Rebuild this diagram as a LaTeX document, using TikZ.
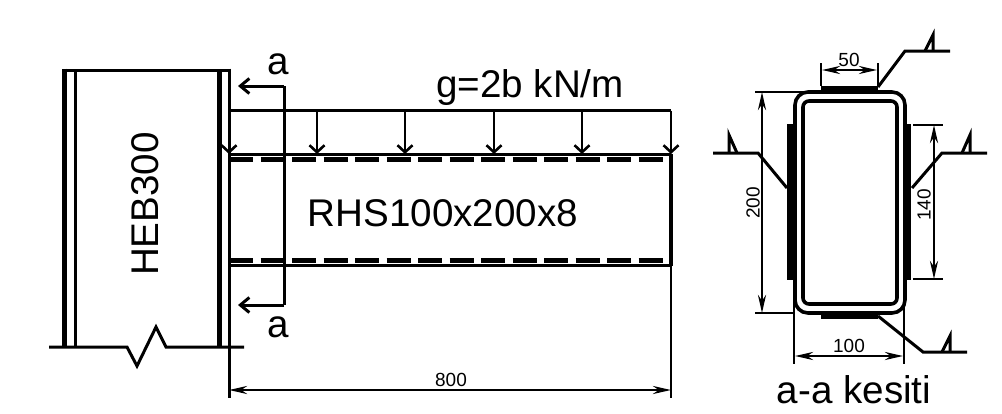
\documentclass[tikz,border=0pt]{standalone}
\usepackage{fontspec}
\setmainfont{Liberation Sans}
\usetikzlibrary{arrows.meta}
\tikzset{
  bigtext/.style={inner sep=0pt, font=\fontsize{38.6}{40}\selectfont},
  dimtext/.style={inner sep=0pt, font=\fontsize{19}{20}\selectfont},
  thick line/.style={line width=5pt},
  mid line/.style={line width=3pt},
  thin line/.style={line width=2.6pt},
  beam line/.style={line width=2.4pt},
  weld line/.style={line width=4.6pt, dash pattern=on 24pt off 7.5pt},
  dim line/.style={line width=2.6pt, {Stealth[length=18pt,width=8pt]}-{Stealth[length=18pt,width=8pt]}},
  load arrow/.style={line width=2.6pt, -{Straight Barb[length=7pt,width=15pt]}},
  cut arrow/.style={line width=3pt, -{Straight Barb[length=9pt,width=15pt]}},
  leader/.style={line width=3pt, line join=miter},
  plate/.style={line width=6pt}
}
\begin{document}
\begin{tikzpicture}[x=1pt, y=-1pt]
        \useasboundingbox (0,0) rectangle (1002,413);

        % column
        \coordinate (topleft) at (64,70);
        \coordinate (topright) at (229,70);
        \draw[mid line] (topleft) -- (topright);
        \draw[thick line] (64,68.5) -- (64,347);
        \draw[mid line] (75,70) -- (75,347);
        \draw[thick line] (219,70) -- (219,347);
        \draw[mid line] (229,68.5) -- (229,398);
        \draw[mid line] (49,347) -- (127,347) -- (137,366) -- (156,327) -- (166,347) -- (244,347);
        \node[bigtext, rotate=90] (heb) at (145,204) {HEB300};

        % beam
        \draw[beam line] (229,154.5) -- (671,154.5);
        \draw[weld line] (229,159.3) -- (671,159.3);
        \draw[weld line] (229,260.7) -- (671,260.7);
        \draw[beam line] (229,265.5) -- (671,265.5);
        \draw[line width=4.4pt] (671,154) -- (671,266);
        \draw[thin line] (671,265) -- (671,398);
        \node[bigtext] (rhs) at (443,213) {RHS100x200x8};

        % load
        \draw[thin line] (229,110.5) -- (671,110.5);
        \foreach \x in {229,317,405,494,582,671}
          \draw[load arrow] (\x,110.5) -- (\x,154);
        \node[bigtext] (load) at (530,88) {g=2b kN/m};

        % section mark
        \coordinate (cuttop) at (284,86);
        \coordinate (cutbot) at (284,305);
        \draw[mid line] (cuttop) -- (cutbot);
        \draw[cut arrow] (cuttop) -- (238,86);
        \draw[cut arrow] (cutbot) -- (238,305);
        \node[bigtext] (atop) at (278,64) {a};
        \node[bigtext] (abot) at (278,327) {a};

        % length
        \draw[dim line] (229,390) -- (671,390);
        \node[dimtext] (len) at (451,380) {800};

        % section
        \draw[line width=3.6pt, rounded corners=13pt] (795,92) rectangle (905,313);
        \draw[line width=3.6pt, rounded corners=6pt] (803,101) rectangle (897,304);
        \draw[plate] (821,88.5) -- (878,88.5);
        \draw[plate] (821,316) -- (878,316);
        \draw[plate] (790,124) -- (790,280);
        \draw[plate] (908,124) -- (908,280);

        % welds
        \draw[leader] (878,87) -- (905,51) -- (950,51);
        \draw[leader] (925,51) -- (933,35) -- (933,51);
        \draw[leader] (787,188) -- (758,153) -- (713,153);
        \draw[leader] (737,153) -- (729,135) -- (729,153);
        \draw[leader] (912,188) -- (942,153) -- (987,153);
        \draw[leader] (962,153) -- (970,135) -- (970,153);
        \draw[leader] (878,316) -- (923,352) -- (967,352);
        \draw[leader] (942,352) -- (950,336) -- (950,352);

        % section dimensions
        \draw[thin line] (821,63) -- (821,86);
        \draw[thin line] (878,63) -- (878,86);
        \draw[dim line] (822,70) -- (877,70);
        \node[dimtext] (d50) at (849,60) {50};

        \draw[thin line] (755,92) -- (810,92);
        \draw[thin line] (755,313) -- (795,313);
        \draw[dim line] (762,92) -- (762,313);
        \node[dimtext, rotate=90] (d200) at (753,203) {200};

        \draw[thin line] (913,125) -- (943,125);
        \draw[thin line] (913,279) -- (943,279);
        \draw[dim line] (934,125) -- (934,279);
        \node[dimtext, rotate=90] (d140) at (924,205) {140};

        \draw[thin line] (794,300) -- (794,364);
        \draw[thin line] (904,300) -- (904,364);
        \draw[dim line] (795,356) -- (903,356);
        \node[dimtext] (d100) at (849,346) {100};

        \node[bigtext] (title) at (854,390) {a-a kesiti};
      \end{tikzpicture}
\end{document}
